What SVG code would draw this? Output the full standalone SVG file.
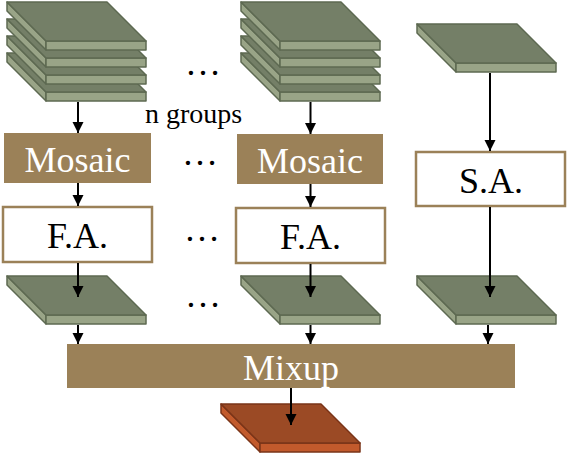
<svg xmlns="http://www.w3.org/2000/svg" xmlns:xlink="http://www.w3.org/1999/xlink" width="567" height="455" viewBox="0 0 567 455">
<style>
  .top{fill:#747f67;stroke:#5d6951;stroke-width:1.5;stroke-linejoin:round}
  .side{fill:#99a487;stroke:#5d6951;stroke-width:1.5;stroke-linejoin:round}
  .otop{fill:#9b4a25;stroke:#7a3418;stroke-width:1.5;stroke-linejoin:round}
  .oside{fill:#c25a2c;stroke:#7a3418;stroke-width:1.5;stroke-linejoin:round}
  .fill{fill:#9b8158}
  .frame{fill:#fff;stroke:#9b8158;stroke-width:2.5}
  .t{font-family:"Liberation Serif","Times New Roman",serif;font-size:36px;text-anchor:middle}
  .w{fill:#fff}
  .k{fill:#000}
  .conn line{stroke:#000;stroke-width:2}
</style>
<defs>
  <g id="slab">
    <polygon class="side" points="0,0 39,39 39,48 0,9"/>
    <polygon class="side" points="39,39 139,39 139,48 39,48"/>
    <polygon class="top" points="0,0 100,0 139,39 39,39"/>
  </g>
  <g id="oslab">
    <polygon class="oside" points="0,0 39,39 39,48 0,9"/>
    <polygon class="oside" points="39,39 139,39 139,48 39,48"/>
    <polygon class="otop" points="0,0 100,0 139,39 39,39"/>
  </g>
  <marker id="ah" markerWidth="11" markerHeight="12" refX="11" refY="5.5" orient="auto" markerUnits="userSpaceOnUse">
    <path d="M0,0 L11,5.5 L0,11 Z" fill="#000"/>
  </marker>
</defs>

<g id="stack1">
  <use xlink:href="#slab" x="7" y="53"/>
  <use xlink:href="#slab" x="7" y="36"/>
  <use xlink:href="#slab" x="7" y="19"/>
  <use xlink:href="#slab" x="7" y="2"/>
</g>
<g id="stack2">
  <use xlink:href="#slab" x="241" y="53"/>
  <use xlink:href="#slab" x="241" y="36"/>
  <use xlink:href="#slab" x="241" y="19"/>
  <use xlink:href="#slab" x="241" y="2"/>
</g>
<g id="input3">
  <use xlink:href="#slab" x="417" y="24"/>
</g>
<g id="ngroups">
  <text class="t k" x="145" y="123" style="text-anchor:start;font-size:28px">n groups</text>
</g>

<g id="mosaic1">
  <rect class="fill" x="4" y="133" width="147" height="50"/>
  <text class="t w" x="77.5" y="172">Mosaic</text>
</g>
<g id="mosaic2">
  <rect class="fill" x="237" y="134" width="146" height="50"/>
  <text class="t w" x="310" y="173">Mosaic</text>
</g>
<g id="fa1">
  <rect class="frame" x="3" y="207" width="149" height="55"/>
  <text class="t k" x="77.5" y="248">F.A.</text>
</g>
<g id="fa2">
  <rect class="frame" x="236" y="208" width="149" height="55"/>
  <text class="t k" x="310.5" y="249">F.A.</text>
</g>
<g id="sa">
  <rect class="frame" x="416" y="152" width="149" height="54"/>
  <text class="t k" x="491" y="193">S.A.</text>
</g>

<g id="feat1">
  <use xlink:href="#slab" x="7" y="276"/>
</g>
<g id="feat2">
  <use xlink:href="#slab" x="241" y="276"/>
</g>
<g id="feat3">
  <use xlink:href="#slab" x="417" y="276"/>
</g>

<g id="mixup">
  <rect class="fill" x="67" y="344" width="448" height="44"/>
  <text class="t w" x="291" y="380">Mixup</text>
</g>
<g id="output">
  <use xlink:href="#oslab" x="221" y="404"/>
</g>

<g id="ellipses">
  <text class="t k" x="203" y="75">…</text>
  <text class="t k" x="200" y="165">…</text>
  <text class="t k" x="202" y="241">…</text>
  <text class="t k" x="203" y="307">…</text>
</g>

<g class="conn" id="connectors">
  <line x1="78" y1="102" x2="78" y2="133" marker-end="url(#ah)"/>
  <line x1="78" y1="183" x2="78" y2="206" marker-end="url(#ah)"/>
  <line x1="78" y1="263" x2="78" y2="297" marker-end="url(#ah)"/>
  <line x1="78" y1="325" x2="78" y2="344" marker-end="url(#ah)"/>
  <line x1="310.5" y1="102" x2="310.5" y2="134" marker-end="url(#ah)"/>
  <line x1="310.5" y1="184" x2="310.5" y2="207" marker-end="url(#ah)"/>
  <line x1="310.5" y1="264" x2="310.5" y2="297" marker-end="url(#ah)"/>
  <line x1="310.5" y1="325" x2="310.5" y2="344" marker-end="url(#ah)"/>
  <line x1="490" y1="73" x2="490" y2="151" marker-end="url(#ah)"/>
  <line x1="490" y1="207" x2="490" y2="297" marker-end="url(#ah)"/>
  <line x1="488" y1="325" x2="488" y2="344" marker-end="url(#ah)"/>
  <line x1="291" y1="388" x2="291" y2="425" marker-end="url(#ah)"/>
</g>
</svg>
